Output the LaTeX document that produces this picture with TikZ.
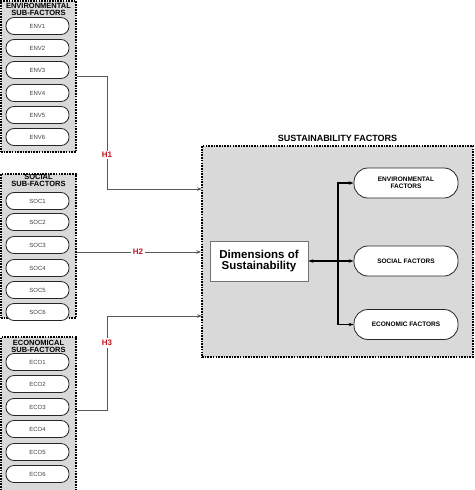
\documentclass[tikz,border=0pt]{standalone}
\usepackage{fontspec}
\setmainfont{Liberation Sans}
\usepackage{xcolor}
\usepackage{tikz}
\usetikzlibrary{calc}
\usetikzlibrary{arrows.meta}
\definecolor{hred}{RGB}{200,20,30}
\definecolor{boxgray}{RGB}{217,217,217}
\tikzset{
	grp/.style={draw=black,fill=boxgray,line width=1.6pt,dash pattern=on 1.6pt off 1.1pt,inner sep=0pt},
	sub/.style={draw=black!85,fill=white,line width=0.8pt,rounded corners=8pt,minimum width=63pt,minimum height=17pt,inner sep=0pt,font=\fontsize{6}{6}\selectfont,text=black!75},
	fac/.style={draw=black!85,fill=white,line width=0.8pt,rounded corners=14pt,minimum width=104pt,minimum height=30pt,inner sep=0pt,align=center,font=\bfseries\fontsize{6.5}{7.5}\selectfont},
	grptitle/.style={align=center,inner sep=0pt,font=\bfseries\fontsize{7.5}{7}\selectfont},
	hlab/.style={text=hred,inner sep=1.5pt,font=\bfseries\fontsize{8}{8}\selectfont},
	link/.style={draw=black!65,line width=0.7pt},
	bar/.style={draw=black,line width=1.1pt}
}

\begin{document}
\begin{tikzpicture}[x=1pt,y=-1pt,>={Stealth[length=5pt,width=3.5pt]}]
	\useasboundingbox (0,0) rectangle (474,490);
	\node[grp,minimum width=75pt,minimum height=151pt] (env) at (38.5,76.5) {};
	\node[grp,minimum width=75pt,minimum height=144pt] (soc) at (38.5,246) {};
	\node[grp,minimum width=75pt,minimum height=160pt] (eco) at (38.5,417) {};
	\node[grp,minimum width=271pt,minimum height=211pt] (sf) at (337.5,251.5) {};
	\node[grptitle] (envt) at (38.5,9.5) {ENVIRONMENTAL\\SUB-FACTORS};
	\node[grptitle] (soct) at (38.5,180.5) {SOCIAL\\SUB-FACTORS};
	\node[grptitle] (ecot) at (38.5,346) {ECONOMICAL\\SUB-FACTORS};
	\node[sub] (env1) at (37.5,26) {ENV1};
	\node[sub] (env2) at (37.5,48) {ENV2};
	\node[sub] (env3) at (37.5,70) {ENV3};
	\node[sub] (env4) at (37.5,93) {ENV4};
	\node[sub] (env5) at (37.5,115) {ENV5};
	\node[sub] (env6) at (37.5,137) {ENV6};
	\node[sub] (soc1) at (37.5,201) {SOC1};
	\node[sub] (soc2) at (37.5,222) {SOC2};
	\node[sub] (soc3) at (37.5,245) {SOC3};
	\node[sub] (soc4) at (37.5,268) {SOC4};
	\node[sub] (soc5) at (37.5,290) {SOC5};
	\node[sub] (soc6) at (37.5,312) {SOC6};
	\node[sub] (eco1) at (37.5,362) {ECO1};
	\node[sub] (eco2) at (37.5,384) {ECO2};
	\node[sub] (eco3) at (37.5,407) {ECO3};
	\node[sub] (eco4) at (37.5,429) {ECO4};
	\node[sub] (eco5) at (37.5,452) {ECO5};
	\node[sub] (eco6) at (37.5,474) {ECO6};
	\node[font=\bfseries\fontsize{9}{9}\selectfont] (sft) at (337.5,138) {SUSTAINABILITY FACTORS};
	\node[draw=black!55,fill=white,line width=0.6pt,minimum width=98pt,minimum height=40pt,inner sep=0pt,align=center,font=\bfseries\fontsize{11.5}{11.5}\selectfont] (dim) at (259,261) {Dimensions of\\Sustainability};
	\node[fac] (envf) at (406,183) {ENVIRONMENTAL\\FACTORS};
	\node[fac] (socf) at (406,261) {SOCIAL FACTORS};
	\node[fac] (ecof) at (406,324.5) {ECONOMIC FACTORS};
	\node[hlab] (h1) at (107,155) {H1};
	\node[hlab] (h2) at (138,252) {H2};
	\node[hlab] (h3) at (107,343) {H3};
	\coordinate (in1) at (202,189);
	\coordinate (in3) at (202,316);
	\coordinate (hub) at (338,261);
	\draw[link] (env.east) -| (h1.north);
	\draw[link,->] (h1.south) |- (in1);
	\draw[link] (soc.east |- h2) -- (h2.west);
	\draw[link,->] (h2.east) -- (sf.west |- h2);
	\draw[link] (eco.east |- 0,410) -| (h3.south);
	\draw[link,->] (h3.north) |- (in3);
	\draw[bar,<->] (dim.east) -- (socf.west);
	\draw[bar,->] (hub) |- (envf.west);
	\draw[bar,->] (hub) |- (ecof.west);
\end{tikzpicture}
\end{document}
